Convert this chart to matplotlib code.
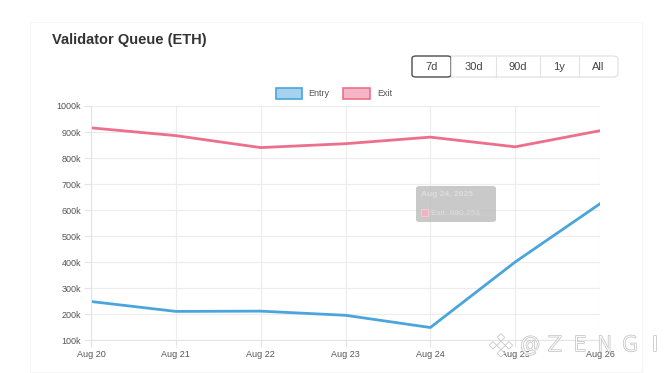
import matplotlib
matplotlib.use('Agg')
import matplotlib.pyplot as plt
import matplotlib.patheffects as pe
from matplotlib.patches import FancyBboxPatch, Rectangle
from matplotlib.ticker import FuncFormatter, MultipleLocator

plt.rcParams['font.family'] = ['Liberation Sans', 'DejaVu Sans']

# data
dates = ['Aug 20', 'Aug 21', 'Aug 22', 'Aug 23', 'Aug 24', 'Aug 25', 'Aug 26']
entry = [248000, 210000, 211000, 195000, 148000, 400000, 624000]
exit_q = [916000, 886000, 840000, 855000, 880251, 843000, 905000]
ranges = ['7d', '30d', '90d', '1y', 'All']

W, H = 665, 373
fig = plt.figure(figsize=(W / 100, H / 100), dpi=100, facecolor='white')

def fx(px):
    return px / W

def fy(py):
    return 1 - py / H

# faint card outline
fig.patches.append(Rectangle((fx(30), fy(372)), fx(642) - fx(30), fy(22) - fy(372),
                             transform=fig.transFigure, facecolor='none',
                             edgecolor='#f6f6f6', lw=0.8))

fig.text(fx(52), fy(40), 'Validator Queue (ETH)', fontsize=10.5, fontweight='bold',
         color='#333333', va='center', ha='left')

# range buttons
edges = [412, 451, 496, 540, 579, 618]
fig.patches.append(FancyBboxPatch((fx(412), fy(77)), fx(618) - fx(412), fy(56) - fy(77),
                                  boxstyle='round,pad=0,rounding_size=0.008',
                                  transform=fig.transFigure, facecolor='white',
                                  edgecolor='#dddddd', lw=0.8))
for i, lab in enumerate(ranges):
    l, r = edges[i], edges[i + 1]
    if i > 0:
        fig.add_artist(plt.Line2D([fx(l), fx(l)], [fy(77), fy(56)], color='#e2e2e2', lw=0.8,
                                  transform=fig.transFigure))
    fig.text(fx((l + r) / 2), fy(66.5), lab, fontsize=8, color='#444444',
             ha='center', va='center')
fig.patches.append(FancyBboxPatch((fx(412), fy(77)), fx(451) - fx(412), fy(56) - fy(77),
                                  boxstyle='round,pad=0,rounding_size=0.006',
                                  transform=fig.transFigure, facecolor='none',
                                  edgecolor='#555555', lw=1.0))

blue = '#4aa5dc'
pink = '#ec6f8c'

ax = fig.add_axes([fx(91), fy(340), fx(600) - fx(91), fy(106) - fy(340)])
x = range(len(dates))
ax.plot(x, entry, color=blue, lw=2, solid_joinstyle='round')
ax.plot(x, exit_q, color=pink, lw=2, solid_joinstyle='round')

ax.set_xlim(0, len(dates) - 1)
ax.set_ylim(100000, 1000000)
ax.yaxis.set_major_locator(MultipleLocator(100000))
ax.yaxis.set_major_formatter(FuncFormatter(lambda v, p: f'{int(round(v / 1000))}k'))
ax.set_xticks(list(x))
ax.set_xticklabels(dates)
ax.grid(True, color='#ececec', lw=0.8)
ax.set_axisbelow(True)
for s in ax.spines.values():
    s.set_visible(False)
ax.spines['left'].set_visible(True)
ax.spines['bottom'].set_visible(True)
ax.spines['left'].set_color('#e4e4e4')
ax.spines['bottom'].set_color('#e4e4e4')
ax.tick_params(labelsize=6.5, labelcolor='#555555', color='#e4e4e4', length=5, pad=2)

# legend
fig.patches.append(Rectangle((fx(276), fy(99)), fx(302) - fx(276), fy(88) - fy(99),
                             transform=fig.transFigure, facecolor='#a6d2f0',
                             edgecolor=blue, lw=1.2))
fig.text(fx(308), fy(93.5), 'Entry', fontsize=6.5, color='#555555', va='center')
fig.patches.append(Rectangle((fx(343), fy(99)), fx(370) - fx(343), fy(88) - fy(99),
                             transform=fig.transFigure, facecolor='#f7b6c5',
                             edgecolor=pink, lw=1.2))
fig.text(fx(377), fy(93.5), 'Exit', fontsize=6.5, color='#555555', va='center')

# tooltip left over from hovering Aug 24
fig.patches.append(FancyBboxPatch((fx(416), fy(222)), fx(496) - fx(416), fy(186) - fy(222),
                                  boxstyle='round,pad=0,rounding_size=0.006',
                                  transform=fig.transFigure, facecolor='#b8b8b8',
                                  edgecolor='none', alpha=0.75))
fig.text(fx(421), fy(195), 'Aug 24, 2025', fontsize=6, color='#dedede',
         fontweight='bold', va='center')
fig.patches.append(Rectangle((fx(421), fy(216)), fx(428) - fx(421), fy(209) - fy(216),
                             transform=fig.transFigure, facecolor='#f2b3c1',
                             edgecolor='#f7d0d9', lw=0.6))
fig.text(fx(431), fy(212.5), 'Exit: 880,251', fontsize=6, color='#dedede', va='center')

# watermark: outlined logo + spaced letters
outline = [pe.withStroke(linewidth=1.2, foreground='#c8c8c8')]
for dx, dy, s in [(0, 0, 5), (-8, 0, 4), (8, 0, 4), (0, -8, 4), (0, 8, 4)]:
    fig.text(fx(501 + dx), fy(345 + dy), '\u25C6', fontsize=s + 2, color='white',
             ha='center', va='center', family=['DejaVu Sans'], path_effects=outline)
for i, ch in enumerate('@ZENGI'):
    fig.text(fx(530 + 25 * i), fy(345), ch, fontsize=15, color='white', ha='center',
             va='center', family=['DejaVu Sans'], fontweight='light', path_effects=outline)

fig.savefig('out.png', dpi=100, facecolor='white')
